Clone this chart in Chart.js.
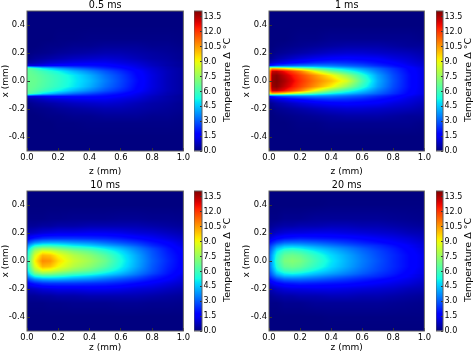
<!DOCTYPE html>
<html>
<head>
<meta charset="utf-8">
<script src="https://cdn.jsdelivr.net/npm/chart.js@4"></script>
<style>
    html, body { margin: 0; padding: 0; background: #fff; }
    #page { position: relative; width: 474px; height: 353px; overflow: hidden; }
    canvas { position: absolute; }
</style>
</head>
<body>
<div id="page"></div>
<script>
// Grid. Rows are |x|, the field is symmetric about x = 0
const zValues = [0, 0.02, 0.05, 0.1, 0.15, 0.2, 0.3, 0.4, 0.5, 0.6, 0.7, 0.8, 0.9, 1.0];
const xValues = [0, 0.04, 0.07, 0.09, 0.10, 0.11, 0.13, 0.16, 0.2, 0.25, 0.3, 0.4, 0.5];
const xTicks = [-0.4, -0.2, 0, 0.2, 0.4];
const zTicks = [0, 0.2, 0.4, 0.6, 0.8, 1.0];
const colorTicks = [0, 1.5, 3, 4.5, 6, 7.5, 9, 10.5, 12, 13.5];

const temp05ms = [
    [6.6, 6.7, 6.7, 6.4, 6.1, 5.8, 5.1, 4.4, 3.5, 2.7, 1.9, 1.2, 0.7, 0.4],
    [6.6, 6.7, 6.6, 6.3, 6.0, 5.7, 5.0, 4.2, 3.3, 2.6, 1.8, 1.2, 0.7, 0.4],
    [6.5, 6.6, 6.4, 6.0, 5.6, 5.2, 4.3, 3.6, 2.9, 2.3, 1.7, 1.1, 0.7, 0.4],
    [6.3, 6.3, 5.9, 5.0, 4.5, 4.0, 3.3, 2.8, 2.3, 1.9, 1.4, 1.0, 0.6, 0.4],
    [4.5, 4.4, 3.9, 3.4, 3.2, 3.0, 2.6, 2.3, 2.0, 1.7, 1.3, 0.9, 0.6, 0.3],
    [1.2, 1.2, 1.2, 1.4, 1.6, 1.8, 1.9, 1.9, 1.8, 1.5, 1.2, 0.8, 0.5, 0.3],
    [0.4, 0.5, 0.6, 0.8, 1.0, 1.1, 1.3, 1.4, 1.4, 1.2, 1.0, 0.7, 0.5, 0.3],
    [0.1, 0.2, 0.3, 0.4, 0.5, 0.6, 0.8, 0.9, 1.0, 0.9, 0.7, 0.5, 0.4, 0.2],
    [0, 0.05, 0.1, 0.15, 0.2, 0.3, 0.4, 0.5, 0.6, 0.6, 0.5, 0.4, 0.3, 0.2],
    [0, 0, 0, 0.05, 0.1, 0.1, 0.2, 0.2, 0.3, 0.3, 0.3, 0.2, 0.2, 0.1],
    [0, 0, 0, 0, 0, 0.05, 0.05, 0.1, 0.1, 0.1, 0.1, 0.1, 0.1, 0.05],
    [0, 0, 0, 0, 0, 0, 0, 0, 0, 0, 0, 0, 0, 0],
    [0, 0, 0, 0, 0, 0, 0, 0, 0, 0, 0, 0, 0, 0]
];
const temp1ms = [
    [10, 13.9, 14.1, 13.6, 12.9, 12.2, 11, 10, 8.7, 6.3, 4.2, 2.9, 1.9, 1.2],
    [10, 13.8, 14, 13.3, 12.6, 11.9, 10.6, 9.2, 7.5, 5.7, 4, 2.8, 1.9, 1.2],
    [9.8, 13.2, 13.3, 12.6, 11.8, 11, 8.8, 6.9, 5.7, 4.6, 3.5, 2.6, 1.8, 1.2],
    [8.6, 10, 9.8, 9.3, 8.4, 7.6, 6.3, 5.2, 4.5, 3.8, 3.1, 2.4, 1.7, 1.2],
    [5.5, 5.2, 5.2, 5, 4.8, 4.8, 4.5, 4.1, 3.7, 3.2, 2.7, 2.1, 1.6, 1.1],
    [1.8, 2.2, 2.6, 2.9, 3.1, 3.3, 3.5, 3.4, 3.1, 2.8, 2.3, 1.9, 1.4, 1],
    [0.6, 0.9, 1.1, 1.4, 1.7, 1.9, 2.3, 2.5, 2.4, 2.2, 1.9, 1.6, 1.2, 0.9],
    [0.2, 0.3, 0.5, 0.7, 0.9, 1.1, 1.4, 1.6, 1.7, 1.6, 1.5, 1.2, 1, 0.7],
    [0, 0.1, 0.2, 0.3, 0.4, 0.5, 0.7, 0.9, 1, 1, 0.9, 0.8, 0.7, 0.5],
    [0, 0, 0.05, 0.1, 0.15, 0.2, 0.3, 0.4, 0.5, 0.5, 0.5, 0.4, 0.3, 0.3],
    [0, 0, 0, 0, 0.05, 0.1, 0.1, 0.2, 0.2, 0.2, 0.2, 0.2, 0.2, 0.1],
    [0, 0, 0, 0, 0, 0, 0, 0, 0, 0, 0, 0, 0, 0],
    [0, 0, 0, 0, 0, 0, 0, 0, 0, 0, 0, 0, 0, 0]
];
const temp10ms = [
    [5.2, 7, 9.2, 10.8, 10.6, 9.6, 8.4, 7.7, 6.8, 5.4, 4.2, 3.1, 2.3, 1.6],
    [5, 6.6, 8.6, 10.1, 9.9, 9.1, 8, 7.3, 6.4, 5.2, 4.1, 3, 2.2, 1.6],
    [4.6, 6, 7.7, 8.8, 8.6, 8.1, 7.2, 6.6, 5.7, 4.8, 3.8, 2.9, 2.1, 1.5],
    [4.1, 5.2, 6.7, 7.4, 7.3, 6.9, 6.2, 5.7, 5, 4.3, 3.5, 2.7, 2, 1.4],
    [3.8, 4.7, 6, 6.5, 6.5, 6.3, 5.6, 5.2, 4.6, 4, 3.3, 2.5, 1.9, 1.3],
    [3.4, 4.2, 5.2, 5.7, 5.7, 5.5, 5, 4.6, 4.1, 3.6, 3, 2.3, 1.8, 1.2],
    [2.5, 3.1, 3.7, 4.1, 4.2, 4.2, 3.9, 3.7, 3.3, 2.9, 2.5, 2, 1.6, 1.1],
    [1.4, 1.8, 2.1, 2.4, 2.5, 2.5, 2.5, 2.4, 2.3, 2.1, 1.8, 1.5, 1.2, 0.9],
    [0.6, 0.8, 0.9, 1.1, 1.2, 1.3, 1.3, 1.4, 1.4, 1.3, 1.1, 1, 0.8, 0.6],
    [0.2, 0.3, 0.3, 0.4, 0.4, 0.5, 0.5, 0.6, 0.6, 0.6, 0.6, 0.5, 0.4, 0.3],
    [0, 0.1, 0.1, 0.1, 0.15, 0.15, 0.2, 0.2, 0.2, 0.25, 0.25, 0.2, 0.2, 0.15],
    [0, 0, 0, 0, 0, 0, 0, 0, 0, 0, 0, 0, 0, 0],
    [0, 0, 0, 0, 0, 0, 0, 0, 0, 0, 0, 0, 0, 0]
];
const temp20ms = [
    [3.2, 4.2, 5.8, 7, 7.2, 7, 6, 5, 4.2, 3.5, 2.9, 2.3, 1.8, 1.3],
    [3.1, 4.1, 5.5, 6.6, 6.8, 6.6, 5.7, 4.8, 4.1, 3.4, 2.8, 2.3, 1.8, 1.3],
    [2.9, 3.7, 5, 5.9, 6.1, 5.9, 5.1, 4.4, 3.8, 3.2, 2.7, 2.2, 1.7, 1.2],
    [2.6, 3.3, 4.4, 5.1, 5.3, 5.1, 4.5, 4, 3.5, 3, 2.5, 2.1, 1.6, 1.2],
    [2.5, 3.1, 4, 4.7, 4.8, 4.7, 4.2, 3.7, 3.3, 2.8, 2.4, 2, 1.5, 1.1],
    [2.3, 2.8, 3.6, 4.2, 4.3, 4.2, 3.8, 3.4, 3, 2.6, 2.3, 1.9, 1.5, 1.1],
    [1.8, 2.2, 2.7, 3.2, 3.3, 3.3, 3.1, 2.8, 2.5, 2.2, 1.9, 1.6, 1.3, 1],
    [1.1, 1.4, 1.7, 2, 2.1, 2.2, 2.1, 2, 1.9, 1.7, 1.5, 1.3, 1.1, 0.8],
    [0.6, 0.7, 0.9, 1.1, 1.2, 1.2, 1.3, 1.3, 1.2, 1.1, 1, 0.9, 0.7, 0.6],
    [0.2, 0.3, 0.4, 0.5, 0.5, 0.6, 0.6, 0.7, 0.7, 0.6, 0.6, 0.5, 0.4, 0.3],
    [0.1, 0.1, 0.1, 0.2, 0.2, 0.2, 0.3, 0.3, 0.3, 0.3, 0.3, 0.25, 0.2, 0.15],
    [0, 0, 0, 0, 0, 0, 0, 0.05, 0.05, 0.05, 0.05, 0.05, 0.05, 0.05],
    [0, 0, 0, 0, 0, 0, 0, 0, 0, 0, 0, 0, 0, 0]
];

const tempMax = 14.1;
const fontFamily = '"DejaVu Sans", sans-serif';
const textColor = '#000';
const frameColor = '#5c5c5c';

// matplotlib jet
function jet(t) {
    const ramp = (v, pts) => {
        for (let i = 1; i < pts.length; i++) {
            if (v <= pts[i][0]) {
                const a = pts[i - 1], b = pts[i];
                return a[1] + (b[1] - a[1]) * (v - a[0]) / (b[0] - a[0]);
            }
        }
        return pts[pts.length - 1][1];
    };
    const r = ramp(t, [[0, 0], [0.35, 0], [0.66, 1], [0.89, 1], [1, 0.5]]);
    const g = ramp(t, [[0, 0], [0.125, 0], [0.375, 1], [0.64, 1], [0.91, 0], [1, 0]]);
    const b = ramp(t, [[0, 0.5], [0.11, 1], [0.34, 1], [0.65, 0], [1, 0]]);
    return [Math.round(r * 255), Math.round(g * 255), Math.round(b * 255)];
}

// position of v inside a sorted list, as [index, fraction]
function locate(list, v) {
    let i = 0;
    while (i < list.length - 2 && v > list[i + 1]) i++;
    const f = (v - list[i]) / (list[i + 1] - list[i]);
    return [i, Math.min(1, Math.max(0, f))];
}

// Shades the plot area from the grid, going through the chart's own scales
const heatPlugin = {
    id: 'heat',
    beforeDatasetsDraw(chart) {
        const grid = chart.data.datasets[0].grid;
        if (!grid) return;
        const area = chart.chartArea, sx = chart.scales.x, sy = chart.scales.y;
        const w = Math.round(area.right - area.left), h = Math.round(area.bottom - area.top);
        const img = chart.ctx.createImageData(w, h);
        for (let py = 0; py < h; py++) {
            const [j, fy] = locate(xValues, Math.abs(sy.getValueForPixel(area.top + py + 0.5)));
            for (let px = 0; px < w; px++) {
                const [i, fx] = locate(zValues, sx.getValueForPixel(area.left + px + 0.5));
                const top = grid[j][i] * (1 - fx) + grid[j][i + 1] * fx;
                const bot = grid[j + 1][i] * (1 - fx) + grid[j + 1][i + 1] * fx;
                const c = jet((top * (1 - fy) + bot * fy) / tempMax);
                const k = (py * w + px) * 4;
                img.data[k] = c[0];
                img.data[k + 1] = c[1];
                img.data[k + 2] = c[2];
                img.data[k + 3] = 255;
            }
        }
        chart.ctx.putImageData(img, Math.round(area.left), Math.round(area.top));
    }
};

const framePlugin = {
    id: 'frame',
    afterDraw(chart) {
        const a = chart.chartArea, ctx = chart.ctx;
        ctx.save();
        ctx.strokeStyle = frameColor;
        ctx.lineWidth = 1;
        ctx.strokeRect(a.left, a.top, a.right - a.left, a.bottom - a.top);
        ctx.restore();
    }
};

// Chart.js turns a right axis title the other way, so this one is drawn by hand
const colorLabelPlugin = {
    id: 'colorLabel',
    afterDraw(chart, args, opts) {
        const ctx = chart.ctx;
        ctx.save();
        ctx.translate(opts.x, 80);
        ctx.rotate(-Math.PI / 2);
        ctx.font = '9.5px ' + fontFamily;
        ctx.fillStyle = textColor;
        ctx.textAlign = 'center';
        ctx.textBaseline = 'middle';
        ctx.fillText('Temperature Δ °C', 0, 0);
        ctx.restore();
    }
};

function addCanvas(left, top, width, height) {
    const c = document.createElement('canvas');
    c.width = width;
    c.height = height;
    c.style.left = left + 'px';
    c.style.top = top + 'px';
    c.style.width = width + 'px';
    c.style.height = height + 'px';
    document.getElementById('page').appendChild(c);
    return c;
}

function useTicks(list) {
    return scale => { scale.ticks = list.map(v => ({ value: v })); };
}

function createHeatChart(p) {
    const points = [];
    p.grid.forEach((row, j) => row.forEach((v, i) => {
        points.push({ x: zValues[i], y: xValues[j], v: v });
        if (xValues[j] > 0) points.push({ x: zValues[i], y: -xValues[j], v: v });
    }));
    const width = 195, height = p.height;
    new Chart(addCanvas(p.left, p.top, width, height), {
        type: 'scatter',
        data: { datasets: [{ data: points, grid: p.grid, pointRadius: 0 }] },
        plugins: [heatPlugin, framePlugin],
        options: {
            responsive: false,
            animation: false,
            layout: { padding: { right: 10 } },
            plugins: {
                legend: { display: false },
                tooltip: { enabled: false },
                title: {
                    display: true,
                    text: p.title,
                    fullSize: false,
                    color: textColor,
                    font: { family: fontFamily, size: 9.6, weight: 'normal', lineHeight: 1.15 },
                    padding: 0
                }
            },
            scales: {
                x: {
                    type: 'linear',
                    min: 0,
                    max: 1,
                    afterBuildTicks: useTicks(zTicks),
                    afterFit(scale) { scale.height = height - 151; },
                    grid: { drawOnChartArea: false, tickLength: -3, tickColor: '#333', z: 1 },
                    border: { display: false },
                    ticks: {
                        padding: 5,
                        maxRotation: 0,
                        color: textColor,
                        font: { family: fontFamily, size: 8.4 },
                        callback: v => v.toFixed(1)
                    },
                    title: {
                        display: true,
                        text: 'z (mm)',
                        color: textColor,
                        font: { family: fontFamily, size: 9 },
                        padding: { top: 0, bottom: 1 }
                    }
                },
                y: {
                    type: 'linear',
                    min: -0.5,
                    max: 0.5,
                    afterBuildTicks: useTicks(xTicks),
                    afterFit(scale) { scale.width = p.axisWidth; },
                    grid: { drawOnChartArea: false, tickLength: -3, tickColor: '#333', z: 1 },
                    border: { display: false },
                    ticks: {
                        padding: 5,
                        color: textColor,
                        font: { family: fontFamily, size: 8.4 },
                        callback: v => v.toFixed(1)
                    },
                    title: {
                        display: true,
                        text: 'x (mm)',
                        color: textColor,
                        font: { family: fontFamily, size: 9 },
                        padding: 0
                    }
                }
            }
        }
    });
}

function createColorBar(p) {
    const width = p.canvasWidth, height = 176;
    new Chart(addCanvas(p.left, p.top, width, height), {
        type: 'bar',
        data: {
            labels: [''],
            datasets: [{
                data: [[0, tempMax]],
                barPercentage: 1,
                categoryPercentage: 1,
                backgroundColor(ctx) {
                    const a = ctx.chart.chartArea;
                    if (!a) return '#000';
                    const g = ctx.chart.ctx.createLinearGradient(0, a.bottom, 0, a.top);
                    for (let i = 0; i <= 40; i++) {
                        const c = jet(i / 40);
                        g.addColorStop(i / 40, 'rgb(' + c.join(',') + ')');
                    }
                    return g;
                }
            }]
        },
        plugins: [framePlugin, colorLabelPlugin],
        options: {
            responsive: false,
            animation: false,
            layout: { padding: { top: 11, bottom: 25 } },
            plugins: {
                legend: { display: false },
                tooltip: { enabled: false },
                colorLabel: { x: p.labelX }
            },
            scales: {
                x: { display: false },
                y: {
                    position: 'right',
                    min: 0,
                    max: tempMax,
                    afterBuildTicks: useTicks(colorTicks),
                    afterFit(scale) { scale.width = width - p.barWidth; },
                    grid: { drawOnChartArea: false, tickLength: -2, tickColor: '#333', z: 1 },
                    border: { display: false },
                    ticks: {
                        padding: 3.5,
                        color: textColor,
                        font: { family: fontFamily, size: 8 },
                        callback: v => v.toFixed(1)
                    }
                }
            }
        }
    });
}

createHeatChart({ title: '0.5 ms', grid: temp05ms, left: 0, top: 0, height: 178, axisWidth: 27 });
createHeatChart({ title: '1 ms', grid: temp1ms, left: 241, top: 0, height: 178, axisWidth: 28 });
createHeatChart({ title: '10 ms', grid: temp10ms, left: 0, top: 180, height: 174, axisWidth: 27 });
createHeatChart({ title: '20 ms', grid: temp20ms, left: 241, top: 180, height: 174, axisWidth: 28 });

createColorBar({ left: 194, top: 0, canvasWidth: 43, barWidth: 8, labelX: 34 });
createColorBar({ left: 436, top: 0, canvasWidth: 38, barWidth: 7, labelX: 32.6 });
createColorBar({ left: 194, top: 180, canvasWidth: 43, barWidth: 8, labelX: 34 });
createColorBar({ left: 436, top: 180, canvasWidth: 38, barWidth: 7, labelX: 32.6 });
</script>
</body>
</html>
